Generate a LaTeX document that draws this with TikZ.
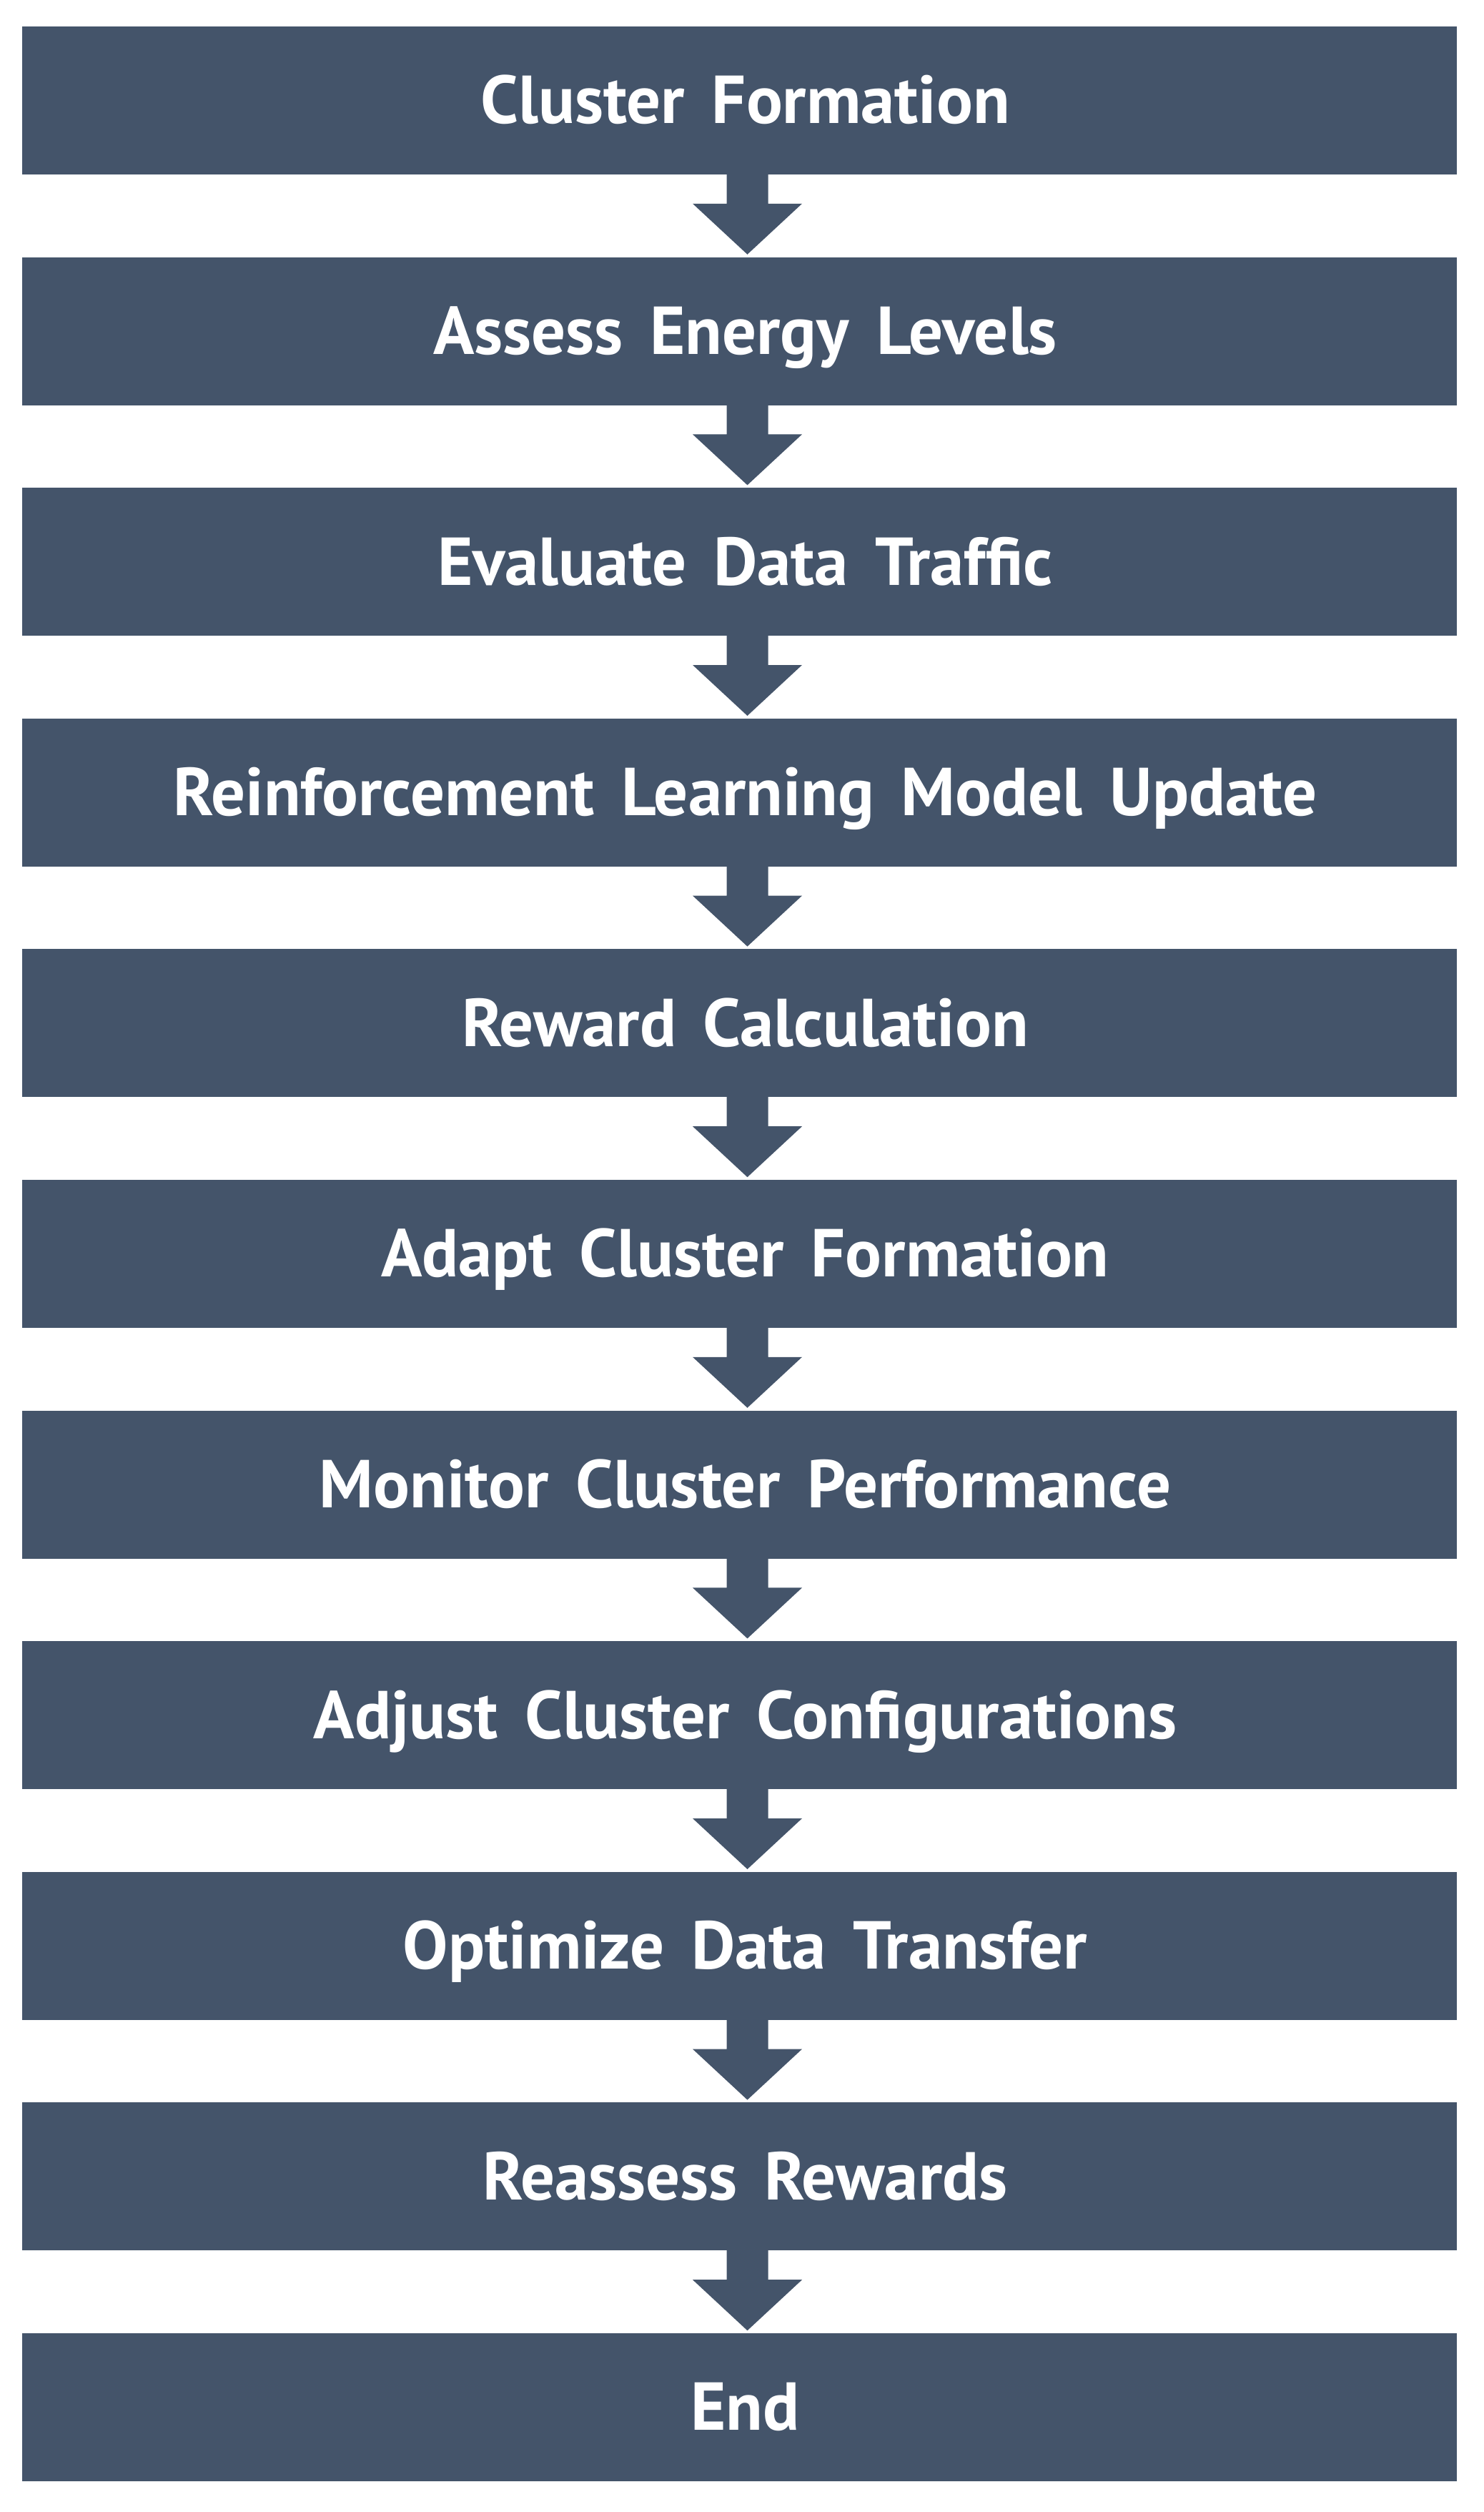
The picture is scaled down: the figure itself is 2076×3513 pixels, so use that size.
\documentclass[tikz,border=0pt]{standalone}
\usepackage{fontspec}
\setmainfont{PT Sans}
\usetikzlibrary{calc}
\definecolor{boxc}{HTML}{44546A}
\newcommand{\boxfont}{\fontsize{23.7}{28}\selectfont\bfseries\spaceskip=0.40em plus 0pt minus 0pt\relax}
\begin{document}
\begin{tikzpicture}[x=0.25pt,y=-0.25pt,
  stepbox/.style={fill=boxc, draw=none, minimum width=501.75pt, minimum height=51.75pt,
    inner sep=0pt, text=white, text height=16.2pt, text depth=0pt, font=\boxfont},
  flowarrow/.style={fill=boxc, draw=none}]
\useasboundingbox (0,0) rectangle (2076,3513);
\foreach \i/\t in {0/Cluster Formation,1/Assess Energy Levels,2/Evaluate Data Traffic,
  3/Reinforcement Learning Model Update,4/Reward Calculation,5/Adapt Cluster Formation,
  6/Monitor Cluster Performance,7/Adjust Cluster Configurations,8/Optimize Data Transfer,
  9/Reassess Rewards,10/End}{
  \node[stepbox] (b\i) at (1034.5,{140.5+\i*322.6}) {\hspace*{4pt}\t};
}
\foreach \i in {0,...,9}{
  \pgfmathtruncatemacro{\j}{\i+1}
  \fill[flowarrow] ($(b\i.south)+(-18,-1)$) -- ($(b\i.south)+(40,-1)$)
    -- ($(b\i.south)+(40,40)$) -- ($(b\i.south)+(87.5,40)$)
    -- ($(b\j.north)+(11,-3)$)
    -- ($(b\i.south)+(-65.5,40)$) -- ($(b\i.south)+(-18,40)$) -- cycle;
}
\end{tikzpicture}
\end{document}
